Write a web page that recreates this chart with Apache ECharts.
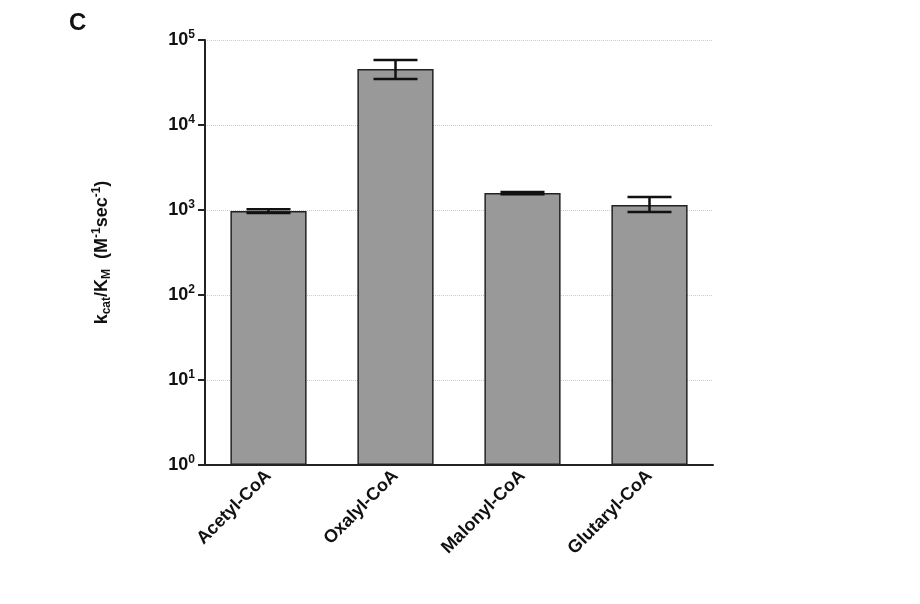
<!DOCTYPE html>
<html>
<head>
<meta charset="utf-8">
<script src="https://cdn.jsdelivr.net/npm/echarts@6/dist/echarts.min.js"></script>
<style>html,body{margin:0;padding:0;background:#fff}#main{width:920px;height:604px}</style>
</head>
<body>
<div id="main"></div>
<script>
// 底物与数值
var categories = ['Acetyl-CoA', 'Oxalyl-CoA', 'Malonyl-CoA', 'Glutaryl-CoA'];
var values = [970, 45600, 1580, 1145];
var errLow = [920, 34700, 1530, 950];
var errHigh = [1020, 58200, 1630, 1420];
var yTicks = [0, 1, 2, 3, 4, 5];

var chart = echarts.init(document.getElementById('main'));
var font = 'Arial, "Liberation Sans", sans-serif';

var errData = categories.map(function (c, i) { return [i, errLow[i], errHigh[i]]; });

var option = {
  backgroundColor: '#ffffff',
  animation: false,
  title: {
    text: 'C', left: 64, top: 6,
    textStyle: { fontFamily: font, fontSize: 24, fontWeight: 'bold', color: '#111' }
  },
  grid: { left: 205, right: 207, top: 40, bottom: 139 },
  xAxis: {
    type: 'category',
    data: categories,
    axisLine: { lineStyle: { color: '#222', width: 2 } },
    axisTick: { alignWithLabel: true, length: 6, lineStyle: { color: '#222', width: 2 } },
    axisLabel: {
      rotate: 45, margin: 8, fontFamily: font, fontSize: 18, fontWeight: 'bold', color: '#111'
    }
  },
  yAxis: {
    type: 'log',
    logBase: 10,
    min: 1,
    max: 100000,
    name: '{b|k}{s|cat}{b|/K}{s|M}{b|  (M}{p|-1}{b|sec}{p|-1}{b|)}',
    nameLocation: 'middle',
    nameGap: 92,
    nameTextStyle: {
      rich: {
        b: { fontFamily: font, fontSize: 18, fontWeight: 'bold', color: '#111' },
        s: { fontFamily: font, fontSize: 12, fontWeight: 'bold', color: '#111', verticalAlign: 'bottom', padding: [10, 0, 0, 0] },
        p: { fontFamily: font, fontSize: 12, fontWeight: 'bold', color: '#111', verticalAlign: 'top', padding: [0, 0, 10, 0] }
      }
    },
    axisLine: { show: true, lineStyle: { color: '#222', width: 2 } },
    axisTick: { show: true, length: 7, lineStyle: { color: '#222', width: 2 } },
    minorTick: { show: false },
    splitLine: { show: true, lineStyle: { color: '#c8ccd0', type: 'dotted', width: 1 } },
    axisLabel: {
      margin: 10,
      formatter: function (v) {
        var e = Math.round(Math.log10(v));
        return yTicks.indexOf(e) >= 0 ? '{b|10}{p|' + e + '}' : '';
      },
      rich: {
        b: { fontFamily: font, fontSize: 18, fontWeight: 'bold', color: '#111' },
        p: { fontFamily: font, fontSize: 12, fontWeight: 'bold', color: '#111', verticalAlign: 'top', padding: [0, 0, 10, 0] }
      }
    }
  },
  series: [
    {
      type: 'bar',
      data: values,
      barWidth: '60%',
      itemStyle: { color: '#999999', borderColor: '#222', borderWidth: 1.5 }
    },
    {
      type: 'custom',
      data: errData,
      z: 10,
      renderItem: function (params, api) {
        var lo = api.coord([api.value(0), api.value(1)]);
        var hi = api.coord([api.value(0), api.value(2)]);
        var w = 22;
        var st = { stroke: '#111', lineWidth: 2.5 };
        return {
          type: 'group',
          children: [
            { type: 'line', shape: { x1: lo[0], y1: lo[1], x2: hi[0], y2: hi[1] }, style: st },
            { type: 'line', shape: { x1: hi[0] - w, y1: hi[1], x2: hi[0] + w, y2: hi[1] }, style: st },
            { type: 'line', shape: { x1: lo[0] - w, y1: lo[1], x2: lo[0] + w, y2: lo[1] }, style: st }
          ]
        };
      }
    }
  ]
};
chart.setOption(option);
</script>
</body>
</html>
